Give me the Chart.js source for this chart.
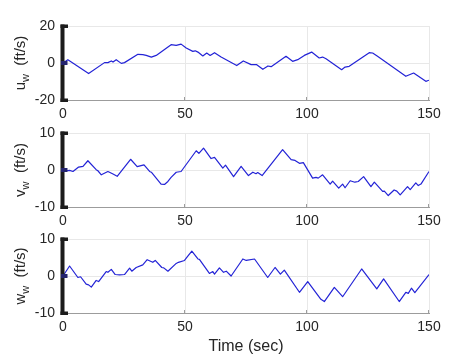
<!DOCTYPE html>
<html><head><meta charset="utf-8">
<script src="https://cdn.jsdelivr.net/npm/chart.js@4"></script>
<style>
body{margin:0;background:#fff;width:474px;height:356px;overflow:hidden;position:relative}
.p{position:absolute;left:0;width:474px}
</style></head><body>
<div class="p" style="top:0;height:118px"><canvas id="c1"></canvas></div>
<div class="p" style="top:118px;height:107px"><canvas id="c2"></canvas></div>
<div class="p" style="top:225px;height:131px"><canvas id="c3"></canvas></div>
<script>
const timeTicks = [0, 50, 100, 150];
const uTicks = [-20, 0, 20];
const vTicks = [-10, 0, 10];
const wTicks = [-10, 0, 10];

const uTime = [0,2,10.5,17,18.4,19.8,20.5,21.8,23.9,25.2,30.7,32.7,34.1,36.2,38.2,44.3,46.4,48.4,50.5,53.2,54.2,55.3,57.3,58.9,60.3,62.1,64.8,71.2,73.9,77.1,79.4,81.9,84,85.3,91.4,94.1,96.2,98.9,101.9,105,106.4,107.8,114.2,115.6,117.3,125.5,126.9,128.9,140.5,143.7,148.7,150];
const uVals = [0,1.8,-5.7,0.2,0.2,1.1,0.5,1.8,-0.2,0.2,4.7,4.5,4.1,3.2,4.1,9.9,9.5,10.2,8.1,6.3,6.6,5.9,3.8,5.4,4.1,5.6,3.2,-1.4,1.1,-0.9,-0.9,-3.4,-1.6,-2,3.6,0.9,1.8,4.1,5.9,2.7,3.2,2.3,-3.6,-2.2,-1.8,5.6,5.4,3.6,-7.2,-5.4,-9.9,-9.3];

const vTime = [0,1.4,2.7,4.1,6.4,8.2,10.2,13.6,14.3,15.7,18.4,20.5,22.2,27.7,30.4,33.2,35.5,36.2,40.2,41.6,43,44.3,46.4,48.4,54.6,55.7,57.6,60.7,62.1,65.5,66.6,69.9,73,76,77.8,79.1,79.8,81.6,90,93.5,95.1,96.9,98.5,102.3,103.7,104.6,106.4,109.5,110.5,113,114.6,115.6,117.7,119.6,121,123.2,126.2,127.6,131,131.7,133.3,135.7,136.8,138.2,141.2,142.3,144.6,145.6,146.7,150];
const vVals = [0,-0.2,-0.1,-0.4,0.8,1.0,2.5,0.1,-0.2,-1.3,-0.4,-1.1,-1.7,2.9,0.9,1.4,-0.4,-0.6,-3.8,-3.9,-3.1,-2,-0.6,-0.4,5.2,4.5,5.9,3.1,3.4,0.5,1.3,-1.8,1.0,-1.5,-0.6,-1.0,-0.7,-1.5,5.5,2.8,2.6,1.8,2.0,-2.2,-2.0,-2.2,-1.3,-3.8,-3.0,-4.9,-3.8,-4.8,-2.9,-3.3,-3.1,-1.8,-4.5,-3.3,-5.8,-5.7,-6.9,-5.4,-5.7,-6.7,-4.5,-5.3,-3.5,-4.2,-3.8,-0.4];

const wTime = [0,2.7,6.1,7.2,9.5,10.5,11.6,13.6,14.6,17.7,18.4,19.8,21.4,23.2,25.2,27.3,28.2,30,32.7,34.5,36.8,37.8,40.5,41.3,43,46.4,47.3,49.8,50.5,52.8,55.3,55.9,60,61.4,62.1,64.1,65.8,66.9,68.9,73.7,75.1,78.5,83.9,86.9,89.1,90.7,96.9,100.3,105.7,107.1,111.2,114.6,122.4,128.6,131.4,137.8,140.5,141.5,142.8,144.2,150];
const wVals = [0,2.7,-0.4,-0.2,-2.2,-2.4,-3.0,-1.2,-1.5,1.2,1.0,1.8,0.4,0.3,0.4,2.1,1.3,2.3,3.0,4.4,3.7,4.2,2.3,2.2,1.3,3.4,3.7,4.2,4.8,6.7,4.6,4.5,0.7,1.2,0.5,2.2,1.0,1.3,0,4.6,4.2,4.6,-0.4,2.3,0.5,1.6,-4.4,-1.5,-6.3,-6.9,-3.1,-5.6,1.9,-3.5,-0.8,-6.9,-4.4,-4.7,-3.3,-4.5,0.4];

const FONT = '"Liberation Sans", Arial, Helvetica, sans-serif';
const TXT = '#262626';
const GRID = '#e8e8e8';
const AXIS = '#9c9c9c';
const LINE = '#2323d6';

const deco = {
  id: 'axdeco',
  afterDraw(chart, args, opts) {
    const {ctx, chartArea: a, scales: {x, y}} = chart;
    ctx.save();
    // inward ticks on bottom axis
    ctx.strokeStyle = AXIS; ctx.lineWidth = 1;
    for (const t of timeTicks.slice(1)) {
      const px = Math.round(x.getPixelForValue(t)) - 0.5;
      ctx.beginPath(); ctx.moveTo(px, a.bottom); ctx.lineTo(px, a.bottom - 3); ctx.stroke();
    }
    // thick left bracket
    const L = a.left;
    ctx.fillStyle = '#1c1c1c';
    ctx.fillRect(L - 2.5, a.top - 1.5, 4, a.bottom - a.top + 3.5);
    ctx.fillRect(L - 2.5, a.top - 1.5, 7.5, 3.5);
    ctx.fillRect(L - 2.5, a.bottom - 1.5, 7.5, 3.5);
    // origin blob
    const oy = y.getPixelForValue(0);
    ctx.fillStyle = '#24246e';
    ctx.fillRect(L - 2, oy - 2, 6.5, 4);
    // y label with subscript
    const cy = (a.top + a.bottom) / 2;
    ctx.translate(25, cy);
    ctx.rotate(-Math.PI / 2);
    ctx.fillStyle = TXT;
    ctx.textBaseline = 'alphabetic';
    ctx.textAlign = 'left';
    const mainF = '15px ' + FONT, subF = '11px ' + FONT;
    ctx.font = mainF; const w1 = ctx.measureText(opts.main).width;
    ctx.font = subF; const w2 = ctx.measureText(opts.sub).width;
    ctx.font = mainF; const rest = '  (ft/s)'; const w3 = ctx.measureText(rest).width;
    let sx = -(w1 + w2 + w3) / 2;
    ctx.font = mainF; ctx.fillText(opts.main, sx, 0); sx += w1;
    ctx.font = subF; ctx.fillText(opts.sub, sx, 3.5); sx += w2;
    ctx.font = mainF; ctx.fillText(rest, sx, 0);
    ctx.restore();
  }
};

function makeChart(id, times, vals, yTicks, label, padTop, xH, showTitle) {
  const pts = times.map((t, i) => ({x: t, y: vals[i]}));
  return new Chart(document.getElementById(id), {
    type: 'line',
    data: {datasets: [{data: pts, borderColor: LINE, borderWidth: 1.2, pointRadius: 0,
      tension: 0, fill: false, borderJoinStyle: 'round'}]},
    options: {
      responsive: true, maintainAspectRatio: false, animation: false, devicePixelRatio: 1,
      layout: {padding: {top: padTop, left: 0, right: 45, bottom: 0}},
      plugins: {legend: {display: false}, tooltip: {enabled: false}, axdeco: label},
      scales: {
        x: {
          type: 'linear', min: timeTicks[0], max: timeTicks[timeTicks.length - 1],
          afterBuildTicks: s => { s.ticks = timeTicks.map(v => ({value: v})); },
          afterFit: s => { s.height = xH; s.paddingLeft = 0; s.paddingRight = 0; },
          grid: {color: GRID, drawTicks: false, lineWidth: 1},
          border: {display: true, color: AXIS, width: 1},
          ticks: {color: TXT, font: {family: FONT, size: 14}, padding: 6, maxRotation: 0, autoSkip: false},
          title: {display: showTitle, text: 'Time (sec)', color: TXT, font: {family: FONT, size: 16}, padding: {top: 0, bottom: 0}}
        },
        y: {
          type: 'linear', min: yTicks[0], max: yTicks[yTicks.length - 1],
          afterBuildTicks: s => { s.ticks = yTicks.map(v => ({value: v})); },
          afterFit: s => { s.width = 63; s.paddingTop = 0; s.paddingBottom = 0; },
          grid: {color: GRID, drawTicks: false, lineWidth: 1},
          border: {display: false},
          ticks: {color: TXT, font: {family: FONT, size: 14}, padding: 8}
        }
      }
    },
    plugins: [deco]
  });
}

makeChart('c1', uTime, uVals, uTicks, {main: 'u', sub: 'w'}, 26, 18, false);
makeChart('c2', vTime, vVals, vTicks, {main: 'v', sub: 'w'}, 15, 18, false);
makeChart('c3', wTime, wVals, wTicks, {main: 'w', sub: 'w'}, 14, 43, true);
</script>
</body></html>
